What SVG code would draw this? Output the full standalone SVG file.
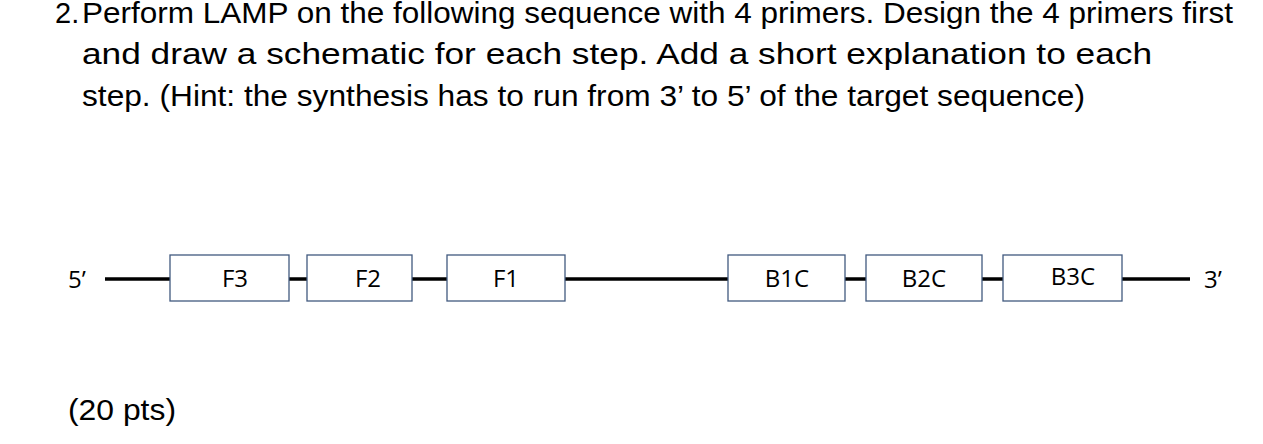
<svg xmlns="http://www.w3.org/2000/svg" width="1263" height="444" viewBox="0 0 1263 444">
<style>
.t{font-family:"Liberation Sans",Arial,sans-serif;font-size:29px;fill:#000}
.b{fill:#fff;stroke:#41597f;stroke-width:1.3}
.l{font-family:"Open Sans","Liberation Sans",sans-serif;font-size:24px;fill:#000;text-anchor:middle}
</style>
<rect width="1263" height="444" fill="#fff"/>
<text class="t" x="55" y="23">2.</text>
<text class="t" x="82" y="23" textLength="1151" lengthAdjust="spacingAndGlyphs">Perform LAMP on the following sequence with 4 primers. Design the 4 primers first</text>
<text class="t" x="82" y="64" textLength="1070" lengthAdjust="spacingAndGlyphs">and draw a schematic for each step. Add a short explanation to each</text>
<text class="t" x="82" y="106" textLength="1003" lengthAdjust="spacingAndGlyphs">step. (Hint: the synthesis has to run from 3’ to 5’ of the target sequence)</text>
<g id="connectors" stroke="#000" stroke-width="3.5">
<line x1="105" y1="279" x2="1190" y2="279"/>
</g>
<g id="n5"><text class="l" x="77" y="288">5’</text></g>
<g id="F3"><rect class="b" x="170" y="255" width="119" height="46"/><text class="l" x="235" y="287">F3</text></g>
<g id="F2"><rect class="b" x="307" y="255" width="105" height="46"/><text class="l" x="368" y="287">F2</text></g>
<g id="F1"><rect class="b" x="447" y="255" width="118" height="46"/><text class="l" x="506" y="287">F1</text></g>
<g id="B1C"><rect class="b" x="728" y="255" width="117" height="46"/><text class="l" x="787" y="287">B1C</text></g>
<g id="B2C"><rect class="b" x="866" y="255" width="116" height="46"/><text class="l" x="924" y="287">B2C</text></g>
<g id="B3C"><rect class="b" x="1003" y="255" width="119" height="46"/><text class="l" x="1073" y="285">B3C</text></g>
<g id="n3"><text class="l" x="1213" y="288">3’</text></g>
<text class="t" x="68" y="420" textLength="108" lengthAdjust="spacingAndGlyphs">(20 pts)</text>
</svg>
